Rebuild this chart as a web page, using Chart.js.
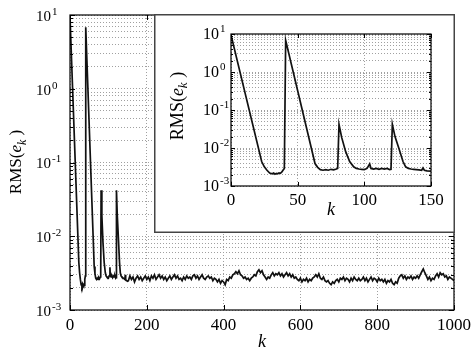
<!DOCTYPE html>
<html><head><meta charset="utf-8">
<script src="https://cdn.jsdelivr.net/npm/chart.js@4.4.0/dist/chart.umd.min.js"></script>
<style>
html,body{margin:0;padding:0;background:#fff;}
#wrap{position:relative;width:474px;height:355px;overflow:hidden;background:#fff;}
#main{position:absolute;left:0;top:0;}
#inset{position:absolute;left:154px;top:14px;background:#fff;}
</style></head><body>
<div id="wrap"><canvas id="main" width="474" height="355"></canvas><canvas id="inset" width="301" height="219"></canvas></div>
<script>
// ---- data ----
const kEarly = [0,23,25,27,29,31,32,33,34,35,36,37,38,39,40,41,63,65,67,69,71,73,75,77,79,80,81,83,86,89,92,94,96,98,100,102,104,105,107,109,111,113,115,117,119,120,121,123,126,129,131,133,135,137,139,141,143,144,145,147,150];
const rmsEarly = [9.5,4.4e-3,3.2e-3,2.6e-3,2.2e-3,2.1e-3,2.2e-3,2.05e-3,2.15e-3,2.1e-3,2.2e-3,2.15e-3,2.3e-3,2.6e-3,2.9e-3,6.8,3.9e-3,3.1e-3,2.7e-3,2.6e-3,2.7e-3,2.6e-3,2.75e-3,2.65e-3,2.8e-3,2.9e-3,0.042,0.019,8.0e-3,4.4e-3,3.2e-3,2.9e-3,2.8e-3,2.75e-3,2.7e-3,2.9e-3,3.8e-3,2.9e-3,2.8e-3,2.9e-3,2.75e-3,2.9e-3,2.8e-3,2.9e-3,2.7e-3,2.75e-3,0.042,0.02,9.5e-3,4.4e-3,3.2e-3,2.9e-3,2.8e-3,2.75e-3,2.7e-3,2.65e-3,2.6e-3,3.0e-3,2.6e-3,2.5e-3,2.45e-3];
// steady-state part, read every 4 iterations from k = 152 to 1000, in units of 1e-3
const rmsSteadyMilli = [
2.5,2.9,2.6,2.8,2.4,2.7,2.9,2.6,2.8,2.5,
2.7,2.9,2.6,2.8,2.5,2.9,2.7,3.0,2.6,2.8,
3.0,2.7,2.9,2.6,2.8,2.5,2.7,2.9,2.6,2.8,
3.0,2.7,2.9,2.6,2.7,2.5,2.8,2.6,2.9,2.7,
2.8,2.6,2.9,3.0,2.7,2.9,2.6,2.8,3.0,2.7,
2.6,2.8,2.9,2.7,2.8,2.5,2.7,2.6,2.4,2.6,
2.3,2.5,2.4,2.2,2.6,2.5,2.8,2.7,3.0,3.1,
3.3,3.1,3.4,3.0,2.9,2.7,2.8,2.6,2.7,2.5,
2.7,2.8,3.0,2.9,3.3,3.5,3.2,3.4,3.0,2.8,
2.6,2.8,2.7,3.0,3.2,2.9,3.1,3.0,3.2,2.9,
3.1,2.8,3.0,3.2,2.9,3.1,2.8,3.0,2.7,2.8,
2.6,2.5,2.7,2.4,2.6,2.5,2.7,2.4,2.6,2.5,
2.7,2.8,3.0,2.8,3.1,2.7,2.6,2.8,2.5,2.4,
2.5,2.3,2.2,2.4,2.3,2.5,2.6,2.4,2.7,2.6,
2.8,2.5,2.7,2.6,2.4,2.7,2.5,2.8,2.6,2.5,
2.7,2.5,2.6,2.8,2.5,2.7,2.4,2.6,2.8,2.5,
2.7,2.6,2.4,2.7,2.5,2.6,2.4,2.6,2.3,2.5,
2.4,2.6,2.3,2.2,2.4,2.3,2.7,2.9,3.0,2.7,
2.9,2.6,2.8,2.7,2.9,2.6,2.8,2.7,2.9,2.7,
3.0,3.3,3.6,3.2,2.9,2.6,2.8,2.5,2.7,2.6,
2.9,3.1,2.8,3.2,3.0,3.1,2.8,2.9,2.6,2.8,
2.7,2.6,2.5];
const kSteady = rmsSteadyMilli.map((_, i) => 152 + 4 * i);
const rmsSteady = rmsSteadyMilli.map(v => v * 1e-3);

const mainXTicks = [0, 200, 400, 600, 800, 1000];
const insetXTicks = [0, 50, 100, 150];
const yDecades = [-3, -2, -1, 0, 1];
const xTitle = 'k';
const yTitleParts = ['RMS(', 'e', 'k', ' )'];

// ---- helpers ----
const kAll = kEarly.concat(kSteady);
const rmsAll = rmsEarly.concat(rmsSteady);
const points = kAll.map((k, i) => ({x: k, y: rmsAll[i]}));
const logTicks = [];
yDecades.forEach(e => {
  if (e === yDecades[yDecades.length - 1]) { logTicks.push(Math.pow(10, e)); return; }
  for (let m = 1; m <= 9; m++) logTicks.push(m * Math.pow(10, e));
});
const SERIF = '"Liberation Serif", "Times New Roman", serif';

function drawYTitle(ctx, cx, cy, size) {
  const fonts = [`${size}px ${SERIF}`, `italic ${size}px ${SERIF}`, `italic ${Math.round(size * 0.72)}px ${SERIF}`, `${size}px ${SERIF}`];
  const dys = [0, 0, size * 0.32, 0];
  ctx.save();
  ctx.translate(cx, cy);
  ctx.rotate(-Math.PI / 2);
  ctx.textBaseline = 'middle';
  ctx.textAlign = 'left';
  let total = 0;
  const ws = yTitleParts.map((t, i) => { ctx.font = fonts[i]; const w = ctx.measureText(t).width; total += w; return w; });
  let xx = -total / 2;
  yTitleParts.forEach((t, i) => { ctx.font = fonts[i]; ctx.fillText(t, xx, dys[i]); xx += ws[i]; });
  ctx.restore();
}

function makeDecor(cfg) {
  return {
    id: 'decor',
    afterDraw(chart) {
      const {ctx, chartArea: a, scales: {x, y}} = chart;
      ctx.save();
      ctx.strokeStyle = '#000';
      ctx.lineWidth = 1;
      ctx.beginPath();
      y.ticks.forEach(t => {
        const lg = Math.log10(t.value);
        const major = Math.abs(lg - Math.round(lg)) < 1e-6;
        const len = major ? cfg.majorTick : cfg.minorTick;
        const py = Math.round(y.getPixelForValue(t.value)) + 0.5;
        ctx.moveTo(a.left, py); ctx.lineTo(a.left + len, py);
        ctx.moveTo(a.right, py); ctx.lineTo(a.right - len, py);
      });
      cfg.xTicks.forEach(v => {
        const px = Math.round(x.getPixelForValue(v)) + 0.5;
        ctx.moveTo(px, a.bottom); ctx.lineTo(px, a.bottom - cfg.majorTick);
        ctx.moveTo(px, a.top); ctx.lineTo(px, a.top + cfg.majorTick);
      });
      ctx.stroke();
      ctx.lineWidth = cfg.frameWidth;
      ctx.strokeRect(a.left, a.top, a.right - a.left, a.bottom - a.top);
      ctx.fillStyle = '#000';
      ctx.textBaseline = 'middle';
      ctx.textAlign = 'center';
      ctx.font = `${cfg.xFont}px ${SERIF}`;
      cfg.xTicks.forEach(v => ctx.fillText(String(v), x.getPixelForValue(v), cfg.xLabelY));
      ctx.textAlign = 'left';
      yDecades.forEach(e => {
        const py = y.getPixelForValue(Math.pow(10, e));
        ctx.font = `${cfg.yFont}px ${SERIF}`;
        ctx.fillText('10', cfg.yLabelX, py + cfg.baseDy);
        const w = ctx.measureText('10').width;
        ctx.font = `${cfg.supFont}px ${SERIF}`;
        ctx.fillText(String(e), cfg.yLabelX + w + 1, py + cfg.supDy);
      });
      ctx.textAlign = 'center';
      ctx.font = `italic ${cfg.xTitleFont}px ${SERIF}`;
      ctx.fillText(xTitle, cfg.xTitlePos[0], cfg.xTitlePos[1]);
      drawYTitle(ctx, cfg.yTitlePos[0], cfg.yTitlePos[1], cfg.yTitleFont);
      if (cfg.outerBorder) {
        ctx.strokeStyle = '#444';
        ctx.lineWidth = 1.5;
        ctx.strokeRect(0.75, 0.75, chart.width - 1.5, chart.height - 1.5);
      }
      ctx.restore();
    }
  };
}

function makeChart(canvas, xMax, xTicks, yWidth, xHeight, padding, decor) {
  return new Chart(canvas, {
    type: 'line',
    data: {datasets: [{data: points, borderColor: '#111', borderWidth: 1.7, pointRadius: 0, tension: 0, fill: false}]},
    options: {
      responsive: false, animation: false, devicePixelRatio: 1,
      layout: {padding: padding},
      plugins: {legend: {display: false}, tooltip: {enabled: false}},
      scales: {
        x: {
          type: 'linear', min: 0, max: xMax,
          afterBuildTicks: s => { s.ticks = xTicks.map(v => ({value: v})); },
          afterFit: s => { s.height = xHeight; },
          ticks: {display: false},
          grid: {color: '#a0a0a0', lineWidth: 1, drawTicks: false, tickLength: 0},
          border: {display: false, dash: [1, 2]}
        },
        y: {
          type: 'logarithmic', min: 1e-3, max: 10,
          afterBuildTicks: s => { s.ticks = logTicks.map(v => ({value: v})); },
          afterFit: s => { s.width = yWidth; },
          ticks: {display: false},
          grid: {color: '#a0a0a0', lineWidth: 1, drawTicks: false, tickLength: 0},
          border: {display: false, dash: [1, 2]}
        }
      }
    },
    plugins: [makeDecor(decor)]
  });
}

makeChart(document.getElementById('main'), 1000, mainXTicks, 70, 45, {left: 0, top: 15, right: 20, bottom: 0}, {
  xTicks: mainXTicks, majorTick: 5, minorTick: 3, frameWidth: 1.2,
  xFont: 17, xLabelY: 326, yFont: 15, supFont: 11, yLabelX: 36, baseDy: 2, supDy: -3,
  xTitleFont: 18, xTitlePos: [262, 342], yTitleFont: 17, yTitlePos: [17, 162], outerBorder: false
});
makeChart(document.getElementById('inset'), 150, insetXTicks, 77, 47, {left: 0, top: 20, right: 24, bottom: 0}, {
  xTicks: insetXTicks, majorTick: 4, minorTick: 2, frameWidth: 1.2,
  xFont: 17, xLabelY: 187, yFont: 16, supFont: 11, yLabelX: 49, baseDy: 1, supDy: -5,
  xTitleFont: 18, xTitlePos: [177, 196], yTitleFont: 18, yTitlePos: [24, 92], outerBorder: true
});
</script>
</body></html>
